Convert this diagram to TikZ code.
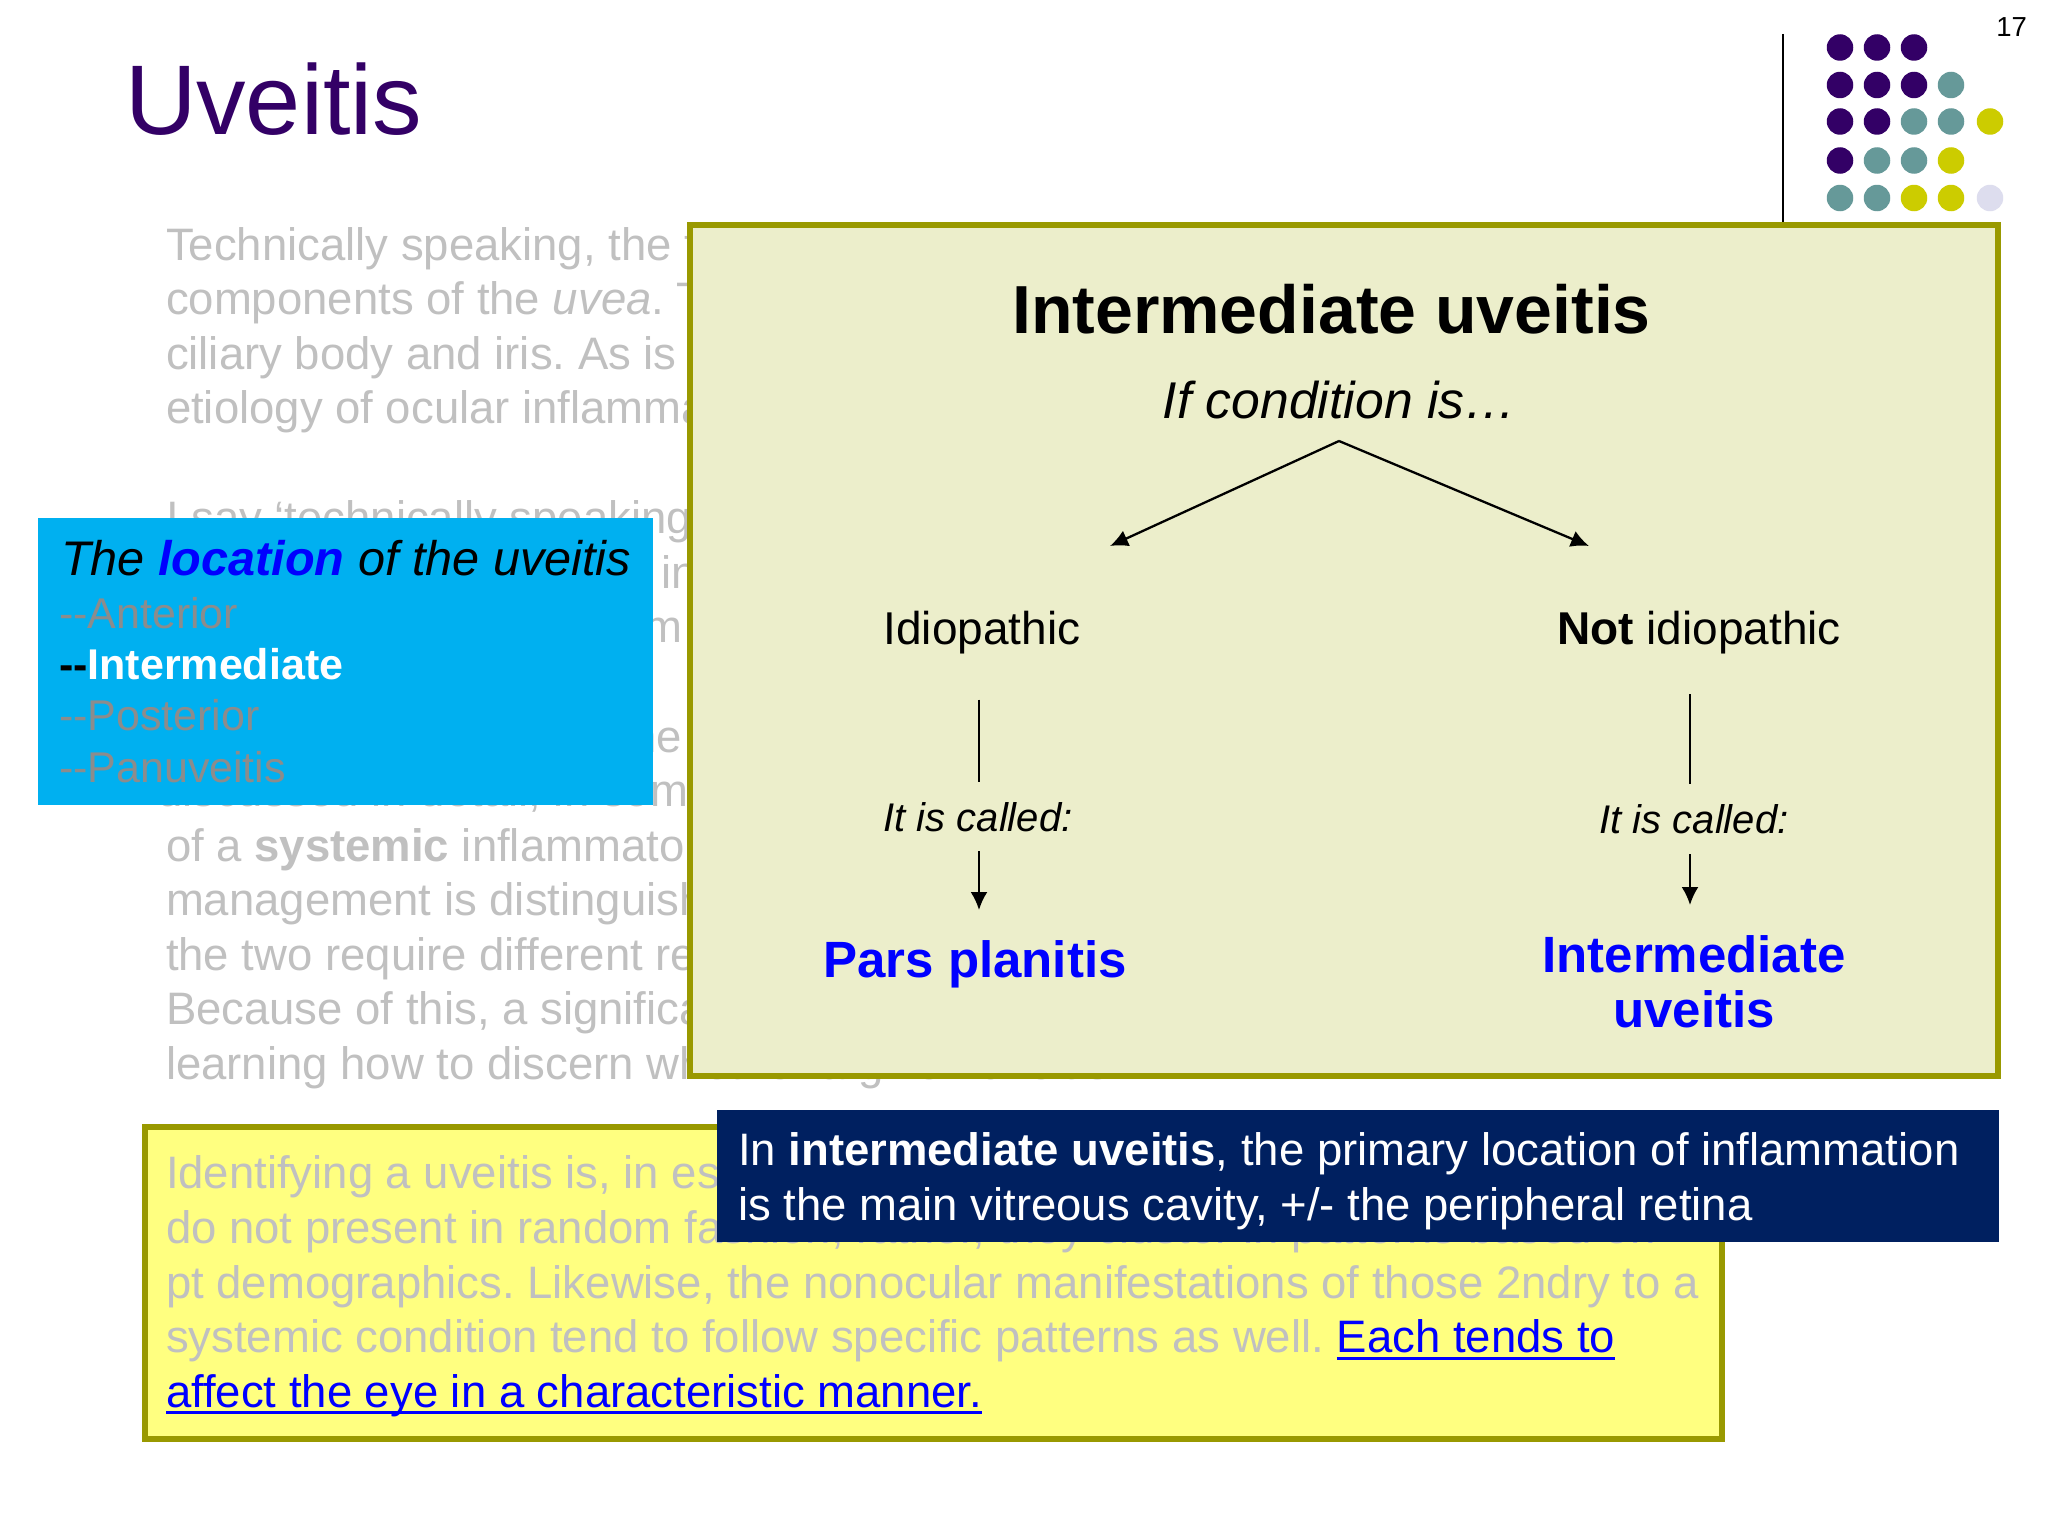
\documentclass[tikz,border=0pt]{standalone}
\usepackage{fontspec}
\setmainfont{Liberation Sans}
\usetikzlibrary{arrows.meta}
\definecolor{titlepurple}{HTML}{330066}
\definecolor{dotteal}{HTML}{669999}
\definecolor{dotyellow}{HTML}{CCCC00}
\definecolor{dotlilac}{HTML}{DDDDEE}
\definecolor{boxolive}{HTML}{999900}
\definecolor{panelfill}{HTML}{ECEECB}
\definecolor{notefill}{HTML}{FFFF80}
\definecolor{locfill}{HTML}{00B0F0}
\definecolor{navyfill}{HTML}{002060}
\definecolor{fadegray}{HTML}{C0C0C0}
\definecolor{locgray}{HTML}{8C8C8C}
\newcommand{\fs}[1]{\fontsize{#1}{#1}\selectfont}
\newcommand{\uln}[1]{\setbox0\hbox{#1}\rlap{\rule[-7pt]{\wd0}{2.6pt}}#1}
\tikzset{
	txt/.style={anchor=base west, inner sep=0pt, outer sep=0pt},
	body/.style={txt, text=fadegray, font=\fs{45.5}},
	notetxt/.style={body},
	navytxt/.style={txt, text=white, font=\fs{45.5}},
	loctxt/.style={txt, text=locgray, font=\fs{43}},
	ctr/.style={anchor=base, inner sep=0pt, outer sep=0pt},
	called/.style={ctr, font=\fs{40}\itshape},
	result/.style={ctr, text=blue, font=\fs{51}\bfseries},
	branch/.style={draw=black, line width=2.3pt},
	dot/.style={circle, inner sep=0pt, outer sep=0pt, minimum size=26.5pt, fill=#1},
	arr/.style={branch, -{Latex[length=18pt,width=17pt]}},
	boxed/.style={inner sep=0pt, outer sep=0pt, anchor=north west}
}
\begin{document}
\frenchspacing
\begin{tikzpicture}[x=1pt,y=-1pt]
	
	\useasboundingbox (0,0) rectangle (2048,1536);
	\fill[white] (0,0) rectangle (2048,1536);
	
	% header
	\node[txt, text=titlepurple, font=\fs{99}] (title) at (125,135) {Uveitis};
	\node[txt, anchor=base east, font=\fs{27.5}] (pagenum) at (2027,37) {17};
	\coordinate (ruletop) at (1783,34);
	\coordinate (rulebot) at (1783,224);
	\draw[line width=2pt] (ruletop) -- (rulebot);
	
	% dots, row by row
	\foreach \x/\col in {1840/titlepurple,1877/titlepurple,1914/titlepurple}
		\node[dot=\col] at (\x,47.5) {};
	\foreach \x/\col in {1840/titlepurple,1877/titlepurple,1914/titlepurple,1951/dotteal}
		\node[dot=\col] at (\x,85) {};
	\foreach \x/\col in {1840/titlepurple,1877/titlepurple,1914/dotteal,1951/dotteal,1990/dotyellow}
		\node[dot=\col] at (\x,121.5) {};
	\foreach \x/\col in {1840/titlepurple,1877/dotteal,1914/dotteal,1951/dotyellow}
		\node[dot=\col] at (\x,160.5) {};
	\foreach \x/\col in {1840/dotteal,1877/dotteal,1914/dotyellow,1951/dotyellow,1990/dotlilac}
		\node[dot=\col] at (\x,198) {};
	
	% faded body text
	\node[body] (b1) at (166,260) {Technically speaking, the t};
	\node[body] (b2) at (166,314.5) {components of the \textit{uvea}. T};
	\node[body] (b3) at (166,369) {ciliary body and iris. As is t};
	\node[body] (b4) at (166,423.5) {etiology of ocular inflammat};
	\node[body] (b5) at (166,533) {I say ‘technically speaking};
	\node[body] (b6) at (661,588) {in};
	\node[body] (b7) at (644,642) {m};
	\node[body] (b8) at (631,752) {he};
	\node[body] (b9) at (157,806) {discussed in detail, in some};
	\node[body] (b10) at (166,861) {of a \textbf{systemic} inflammator};
	\node[body] (b11) at (166,915.5) {management is distinguish};
	\node[body] (b12) at (166,970) {the two require different re};
	\node[body] (b13) at (166,1024.5) {Because of this, a significa};
	\node[body] (b14) at (166,1079.5) {learning how to discern whether a given uveitis};
	
	% yellow note
	\node[boxed, draw=boxolive, line width=6pt, fill=notefill, minimum width=1577pt, minimum height=312pt] (note) at (145,1126.5) {};
	\node[notetxt] (n1) at (166,1188.5) {Identifying a uveitis is, in es};
	\node[notetxt] (n2) at (166,1243) {do not present in random fashion; rather, they cluster in patterns based on};
	\node[notetxt] (n3) at (166,1298) {pt demographics. Likewise, the nonocular manifestations of those 2ndry to a};
	\node[notetxt] (n4) at (166,1352.5) {systemic condition tend to follow specific patterns as well. \textcolor{blue}{\uln{Each tends to}}};
	\node[notetxt, text=blue] (n5) at (166,1407) {\uln{affect the eye in a characteristic manner.}};
	
	% location box
	\node[boxed, fill=locfill, minimum width=615pt, minimum height=286.5pt] (loc) at (38,518) {};
	\node[txt, font=\fs{48.6}\itshape] (l0) at (61,575.5) {The \textcolor{blue}{\textbf{location}} of the uveitis};
	\node[loctxt] (l1) at (59,628.5) {-{}-Anterior};
	\node[loctxt, text=black, font=\fs{43}\bfseries] (l2) at (59,679.5) {-{}-\textcolor{white}{Intermediate}};
	\node[loctxt] (l3) at (59,730.5) {-{}-Posterior};
	\node[loctxt] (l4) at (59,782) {-{}-Panuveitis};
	
	% main panel
	\node[boxed, draw=boxolive, line width=6pt, fill=panelfill, minimum width=1308pt, minimum height=851pt] (panel) at (690,224.5) {};
	\node[ctr, font=\fs{68}\bfseries] (head) at (1331.5,333) {Intermediate uveitis};
	\node[ctr, font=\fs{51.7}\itshape] (cond) at (1339.5,418) {If condition is…};
	\node[ctr, font=\fs{46}] (idio) at (982,644) {Idiopathic};
	\node[ctr, font=\fs{46}] (notidio) at (1699,644) {\textbf{Not} idiopathic};
	\node[called] (call1) at (978,831) {It is called:};
	\node[called] (call2) at (1694,833.5) {It is called:};
	\node[result] (pars) at (975,977) {Pars planitis};
	\node[result] (inter) at (1694,972) {Intermediate};
	\node[result] (uvt) at (1694,1027) {uveitis};
	
	\coordinate (apex) at (1339,441);
	\coordinate (tipL) at (1110,546);
	\coordinate (tipR) at (1589,546);
	\coordinate (L1) at (979,699.5);
	\coordinate (L2) at (979,782);
	\coordinate (L3) at (979,851);
	\coordinate (L4) at (979,910);
	\coordinate (R1) at (1690,694);
	\coordinate (R2) at (1690,784);
	\coordinate (R3) at (1690,854);
	\coordinate (R4) at (1690,905);
	\draw[arr] (apex) -- (tipL);
	\draw[arr] (apex) -- (tipR);
	\draw[branch] (L1) -- (L2);
	\draw[arr] (L3) -- (L4);
	\draw[branch] (R1) -- (R2);
	\draw[arr] (R3) -- (R4);
	
	% navy caption
	\node[boxed, fill=navyfill, minimum width=1281.5pt, minimum height=131.7pt] (navy) at (717,1110) {};
	\node[navytxt] (c1) at (738,1165) {In \textbf{intermediate uveitis}, the primary location of inflammation};
	\node[navytxt] (c2) at (738,1220) {is the main vitreous cavity, +/- the peripheral retina};
	
\end{tikzpicture}
\end{document}
